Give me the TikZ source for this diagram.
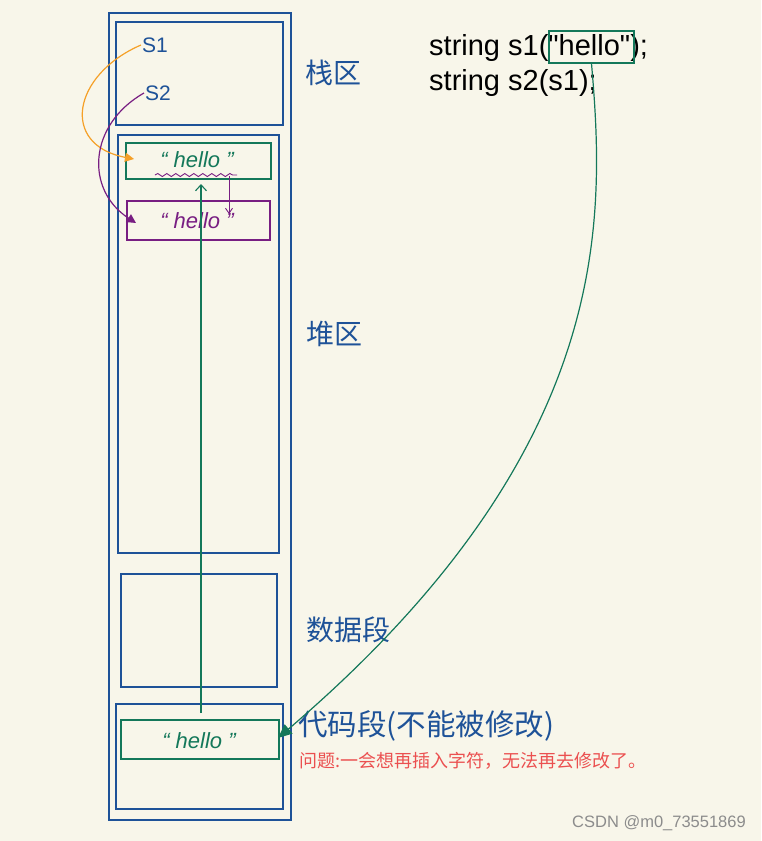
\documentclass[tikz,border=0pt]{standalone}
\usepackage{fontspec}
\setmainfont{Liberation Sans}
\newfontfamily\codefont{Liberation Sans}
\newfontfamily\cjk{Noto Sans CJK SC}
\usetikzlibrary{arrows.meta,decorations.pathmorphing}
\definecolor{bg}{RGB}{248,246,234}
\definecolor{memblue}{RGB}{30,82,152}
\definecolor{hgreen}{RGB}{20,120,90}
\definecolor{hpurple}{RGB}{120,30,130}
\definecolor{horange}{RGB}{245,160,40}
\definecolor{qred}{RGB}{235,80,80}
\tikzset{
  membox/.style={draw=memblue,line width=1.3pt},
  greenbox/.style={draw=hgreen,line width=1.1pt},
  purplebox/.style={draw=hpurple,line width=1.1pt},
  seglabel/.style={text=memblue,font=\cjk\fontsize{28}{32}\selectfont,anchor=west,inner sep=0pt},
  hand/.style={font=\itshape\fontsize{22}{24}\selectfont,inner sep=0pt},
  code/.style={font=\codefont\fontsize{29}{32}\selectfont,anchor=west,inner sep=0pt}
}
\begin{document}
\begin{tikzpicture}[x=1pt,y=-1pt]
\fill[bg] (0,0) rectangle (761,841);
\useasboundingbox (0,0) rectangle (761,841);
% memory layout
\draw[membox] (109,13) rectangle (291,820);
\draw[membox] (116,22) rectangle (283,125);
\draw[membox] (118,135) rectangle (279,553);
\draw[membox] (121,574) rectangle (277,687);
\draw[membox] (116,704) rectangle (283,809);
% labels
\node[seglabel] (stack) at (305,73) {栈区};
\node[seglabel] (heap) at (306,334) {堆区};
\node[seglabel] (data) at (306,630) {数据段};
\node[seglabel,font=\cjk\fontsize{29.5}{32}\selectfont] (codeseg) at (298,726) {代码段(不能被修改)};
\node[anchor=west,inner sep=0pt,text=qred,font=\cjk\fontsize{18}{20}\selectfont] (question) at (299,761) {问题:一会想再插入字符，无法再去修改了。};
% stack variables
\node[text=memblue,font=\fontsize{21}{22}\selectfont,inner sep=1pt] (s1) at (155,45) {S1};
\node[text=memblue,font=\fontsize{21}{22}\selectfont,inner sep=1pt] (s2) at (158,93) {S2};
% hello boxes
\node[greenbox,minimum width=145pt,minimum height=36pt,inner sep=0pt] (h1) at (198.5,161) {};
\node[hand,text=hgreen] (h1t) at (197,160) {“ hello ”};
\node[purplebox,minimum width=143pt,minimum height=39pt,inner sep=0pt] (h2) at (198.5,220.5) {};
\node[hand,text=hpurple] (h2t) at (197,221) {“ hello ”};
\node[greenbox,minimum width=158pt,minimum height=39pt,inner sep=0pt] (h3) at (200,739.5) {};
\node[hand,text=hgreen] (h3t) at (199,741) {“ hello ”};
% wavy underline
\coordinate (wa) at (155,175);
\coordinate (wb) at (237,175);
\draw[hpurple,line width=0.9pt,decorate,decoration={snake,amplitude=1.5pt,segment length=9pt}] (wa) -- (wb);
% purple copy arrow
\coordinate (pa) at (229,176);
\coordinate (pb) at (229,214);
\draw[hpurple,line width=0.9pt,-{Straight Barb[length=5pt,width=7pt]}] (pa) -- (pb);
% green vertical arrow from code segment to heap
\coordinate (ga) at (201,713);
\coordinate (gb) at (201,184);
\draw[hgreen,line width=1.1pt,-{Straight Barb[length=6pt,width=11pt]}] (ga) -- (gb);
% pointer arrows
\coordinate (oend) at (134,159);
\draw[horange,line width=1.2pt,-{Triangle[length=9pt,width=9pt]}] (s1.west) .. controls (72,75) and (60,145) .. (oend);
\coordinate (pend) at (136,223);
\draw[hpurple,line width=1.2pt,-{Triangle[length=9pt,width=9pt]}] (s2.west) .. controls (88,125) and (85,190) .. (pend);
% code text
\node[code] (line1) at (429,48) {string s1("hello");};
\node[code] (line2) at (429,83) {string s2(s1);};
\node[greenbox,minimum width=85pt,minimum height=32pt,inner sep=0pt] (lit) at (591.5,47) {};
\coordinate (cend) at (278,738);
\draw[hgreen,line width=1.2pt,-{Triangle[length=14pt,width=12pt]}] (lit.south) .. controls (605,220) and (615,450) .. (cend);
% watermark
\node[anchor=east,inner sep=0pt,text=black!45,font=\fontsize{16.5}{18}\selectfont] (wm) at (746,823) {CSDN @m0\_73551869};
\end{tikzpicture}
\end{document}
